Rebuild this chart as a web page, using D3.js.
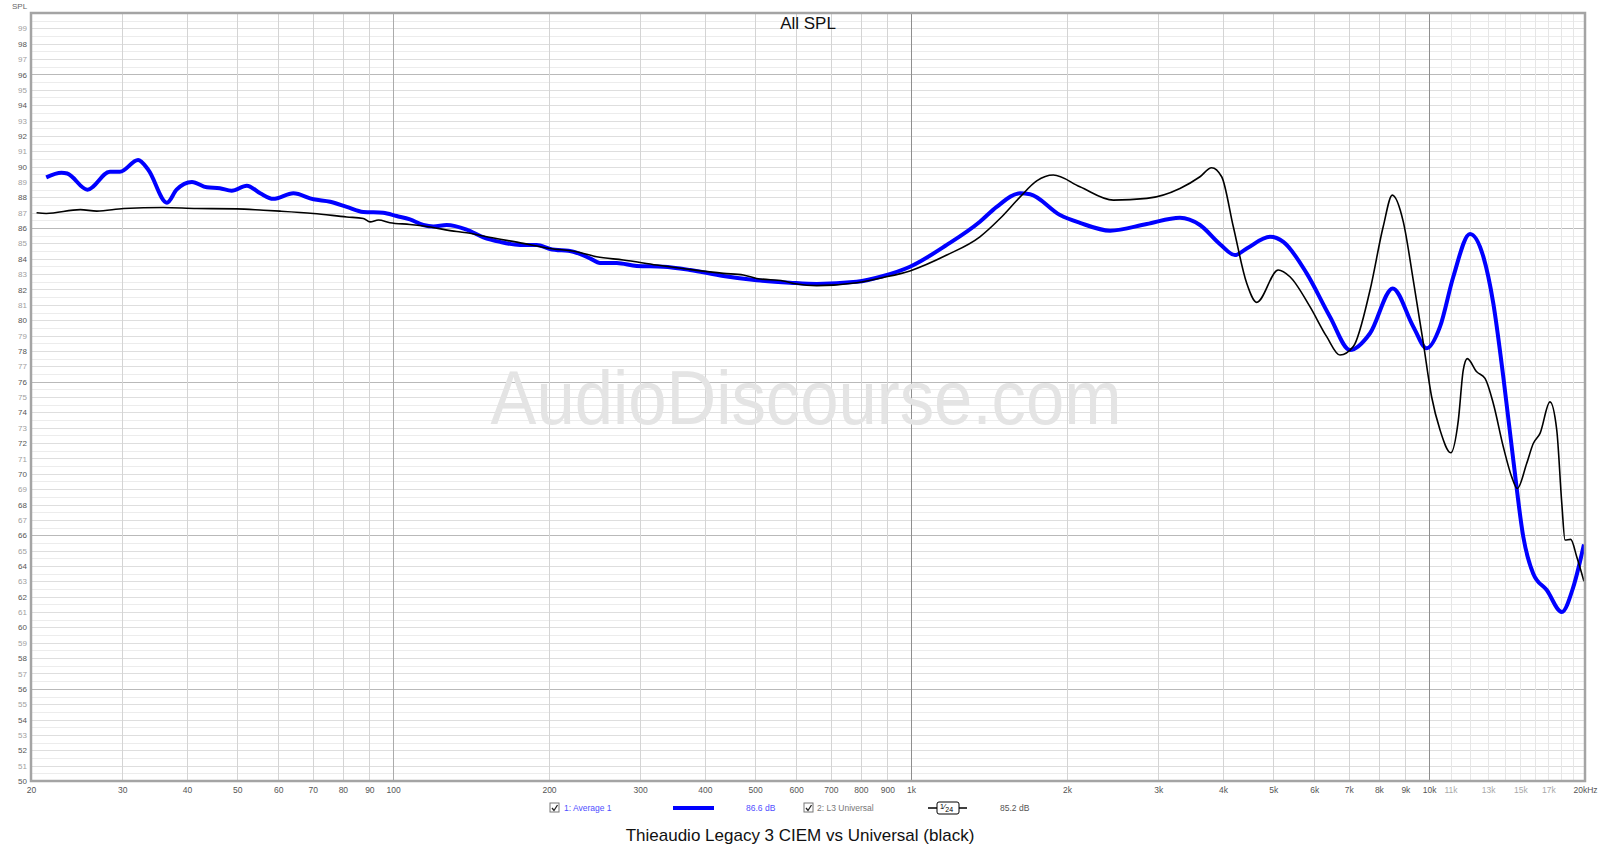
<!DOCTYPE html>
<html>
<head>
<meta charset="utf-8">
<script src="https://cdn.jsdelivr.net/npm/d3@7/dist/d3.min.js"></script>
<style>
  body { margin: 0; background: #fff; }
  svg { display: block; font-family: "Liberation Sans", Arial, sans-serif; }
</style>
</head>
<body>
<svg id="chart" width="1600" height="849"></svg>
<script>
  // ---------- data ----------

  // 1: Average 1 (CIEM, blue)
  const avgFreq = [21.4, 22.9, 23.5, 25.7, 28.4, 29.7, 32.2, 33.7, 36.6, 38.2,
    40.9, 43.7, 46.3, 48.8, 52.2, 55.4, 58.7, 64.2, 70.2, 75.6,
    81.4, 87.6, 95.7, 101.6, 107.8, 114.4, 119.6, 126.9, 138.7, 149.4,
    160.9, 175.8, 189.4, 200.9, 222.8, 240, 250.9, 270.2, 295.4, 332.4,
    374.4, 434.2, 503.4, 584, 657.4, 785, 884, 995, 1172, 1358,
    1463, 1624, 1697, 1939, 2118, 2422, 2851, 3304, 3612, 3949,
    4220, 4446, 4932, 5232, 5804, 6436, 7038, 7693, 8508, 9323,
    9894, 10500, 11138, 11995, 12728, 13305, 13909, 14541, 15201, 15891,
    16871, 18040, 18990, 19908];
  const avgSpl = [89.3, 89.6, 89.55, 88.5, 89.66, 89.66, 90.43, 89.78, 87.65, 88.5,
    89.0, 88.65, 88.59, 88.43, 88.76, 88.26, 87.9, 88.26, 87.87, 87.71,
    87.38, 87.05, 86.99, 86.78, 86.56, 86.2, 86.1, 86.2, 85.9, 85.4,
    85.1, 84.9, 84.9, 84.64, 84.46, 84.03, 83.73, 83.73, 83.53, 83.48,
    83.27, 82.88, 82.6, 82.44, 82.36, 82.5, 82.88, 83.48, 84.9, 86.41,
    87.38, 88.26, 88.2, 86.85, 86.34, 85.83, 86.26, 86.67, 86.2, 84.95,
    84.24, 84.67, 85.43, 85.1, 83.05, 80.23, 78.06, 79.15, 82.07, 79.58,
    78.17, 79.58, 82.83, 85.62, 84.14, 81.1, 76.32, 70.9, 65.9, 63.5,
    62.43, 61.0, 62.64, 65.4];

  // 2: L3 Universal (black)
  const uniFreq = [20.5, 21.4, 24.9, 26.8, 30.2, 36.0, 41.8, 49.9, 56.2, 60.5,
    70.2, 81.4, 87.6, 90.3, 93.7, 98.6, 107.8, 114.4, 132.7, 140.8,
    149.4, 178.4, 200.9, 226.2, 247.2, 278.2, 322.8, 374.4, 434.2, 474.5,
    503.4, 566.8, 601.6, 657.4, 785, 884, 995, 1172, 1358, 1485,
    1624, 1748, 1882, 2118, 2458, 2851, 3304, 3612, 3804, 3978,
    4188, 4446, 4648, 5116, 5388, 5889, 6344, 6730, 7140, 7693,
    8157, 8492, 8918, 9323, 9748, 10116, 10500, 11012, 11390, 11641,
    11852, 12358, 12824, 13305, 13909, 14439, 14802, 15432, 15891, 16376,
    17118, 17640, 18040, 18302, 18772, 19278, 19908];
  const uniSpl = [87.0, 86.95, 87.2, 87.1, 87.27, 87.34, 87.27, 87.25, 87.16, 87.1,
    86.95, 86.72, 86.62, 86.4, 86.52, 86.35, 86.23, 86.13, 85.77, 85.66,
    85.48, 85.0, 84.67, 84.46, 84.13, 83.92, 83.59, 83.3, 83.05, 82.94,
    82.72, 82.55, 82.36, 82.25, 82.44, 82.78, 83.21, 84.24, 85.43, 86.62,
    88.03, 89.07, 89.45, 88.69, 87.82, 87.93, 88.58, 89.34, 89.93, 89.34,
    86.1, 82.4, 81.16, 83.27, 82.83, 80.88, 78.93, 77.73, 78.28, 81.97,
    86.1, 88.14, 86.4, 82.6, 78.5, 75.0, 72.85, 71.37, 73.5, 76.75,
    77.5, 76.64, 76.21, 74.58, 71.76, 69.8, 69.04, 70.67, 71.97, 72.63,
    74.68, 72.85, 68.07, 65.69, 65.73, 64.6, 63.0];

  const xTicks = [20, 30, 40, 50, 60, 70, 80, 90, 100, 200, 300, 400, 500, 600, 700, 800, 900,
    1000, 2000, 3000, 4000, 5000, 6000, 7000, 8000, 9000, 10000, 11000, 13000, 15000, 17000, 20000];
  const xTickLabels = ["20", "30", "40", "50", "60", "70", "80", "90", "100", "200", "300", "400",
    "500", "600", "700", "800", "900", "1k", "2k", "3k", "4k", "5k", "6k", "7k", "8k", "9k", "10k",
    "11k", "13k", "15k", "17k", "20kHz"];
  const yTicks = d3.range(50, 100);

  const legendNames = ["1: Average 1", "2: L3 Universal"];
  const legendLevels = ["86.6 dB", "85.2 dB"];

  // ---------- layout ----------
  const plotLeft = 31, plotRight = 1585, plotTop = 13, plotBottom = 781;

  const svg = d3.select("#chart");
  const x = d3.scaleLog().domain([20, 20000]).range([plotLeft, plotRight]);
  const y = d3.scaleLinear().domain([50, 100]).range([plotBottom, plotTop]);

  // horizontal grid (every 0.5 dB)
  const hGrid = svg.append("g");
  d3.range(50.5, 100, 0.5).forEach(v => {
    let col = "#ececec";
    if (Number.isInteger(v)) col = (v % 10 === 6) ? "#b9b9b9" : "#dedede";
    hGrid.append("line")
      .attr("x1", plotLeft).attr("x2", plotRight)
      .attr("y1", Math.round(y(v)) + 0.5).attr("y2", Math.round(y(v)) + 0.5)
      .attr("stroke", col).attr("stroke-width", 1);
  });

  // vertical grid
  const vGrid = svg.append("g");
  const vLines = [];
  [10, 100, 1000, 10000].forEach(dec => {
    for (let m = 1; m <= 9; m++) {
      const f = dec * m;
      if (f > 20 && f < 20000 && !(dec === 10 && m < 3)) vLines.push(f);
    }
  });
  d3.range(11000, 20000, 1000).forEach(f => vLines.push(f));
  vLines.forEach(f => {
    let col = "#d4d4d4";
    if (f === 100) col = "#ababab";
    else if (f === 1000 || f === 10000) col = "#8e8e8e";
    else if (f > 10000) col = "#e6e6e6";
    vGrid.append("line")
      .attr("x1", Math.round(x(f)) + 0.5).attr("x2", Math.round(x(f)) + 0.5)
      .attr("y1", plotTop).attr("y2", plotBottom)
      .attr("stroke", col).attr("stroke-width", 1);
  });

  // watermark
  svg.append("text")
    .attr("x", 806).attr("y", 424)
    .attr("text-anchor", "middle")
    .attr("font-size", 76)
    .attr("textLength", 631)
    .attr("lengthAdjust", "spacingAndGlyphs")
    .attr("fill", "#e4e4e4")
    .text("AudioDiscourse.com");

  // curves
  svg.append("clipPath").attr("id", "plotClip")
    .append("rect").attr("x", plotLeft).attr("y", plotTop)
    .attr("width", plotRight - plotLeft).attr("height", plotBottom - plotTop);

  const line = d3.line()
    .x(d => x(d[0]))
    .y(d => y(d[1]))
    .curve(d3.curveMonotoneX);

  const curves = svg.append("g").attr("clip-path", "url(#plotClip)");
  curves.append("path")
    .datum(avgFreq.map((f, i) => [f, avgSpl[i]]))
    .attr("d", line)
    .attr("fill", "none")
    .attr("stroke", "#0000ff")
    .attr("stroke-width", 4)
    .attr("stroke-linejoin", "round");
  curves.append("path")
    .datum(uniFreq.map((f, i) => [f, uniSpl[i]]))
    .attr("d", line)
    .attr("fill", "none")
    .attr("stroke", "#000")
    .attr("stroke-width", 1.6)
    .attr("stroke-linejoin", "round");

  // frame
  svg.append("rect")
    .attr("x", plotLeft).attr("y", plotTop)
    .attr("width", plotRight - plotLeft).attr("height", plotBottom - plotTop)
    .attr("fill", "none")
    .attr("stroke", "#a4a4a4")
    .attr("stroke-width", 2.5);

  // axes
  const yAxis = svg.append("g")
    .attr("transform", `translate(${plotLeft - 1},0)`)
    .call(d3.axisLeft(y).tickValues(yTicks).tickSize(0).tickPadding(3).tickFormat(d3.format("d")));
  yAxis.select(".domain").remove();
  yAxis.selectAll("text")
    .attr("font-size", 8)
    .attr("font-family", "'Liberation Sans', Arial, sans-serif")
    .attr("fill", d => d % 2 === 0 ? "#555" : "#a0a0a0");

  const xAxis = svg.append("g")
    .attr("transform", `translate(0,${plotBottom})`)
    .call(d3.axisBottom(x).tickValues(xTicks).tickSize(0).tickPadding(6)
      .tickFormat((d, i) => xTickLabels[i]));
  xAxis.select(".domain").remove();
  xAxis.selectAll("text")
    .attr("font-size", 8.5)
    .attr("font-family", "'Liberation Sans', Arial, sans-serif")
    .attr("fill", d => [11000, 13000, 15000, 17000].includes(d) ? "#a8a8a8" : "#555");

  svg.append("text")
    .attr("x", 12).attr("y", 9)
    .attr("font-size", 8).attr("fill", "#666")
    .text("SPL");

  // titles
  svg.append("text")
    .attr("x", (plotLeft + plotRight) / 2).attr("y", 29)
    .attr("text-anchor", "middle")
    .attr("font-size", 17).attr("fill", "#111")
    .text("All SPL");

  svg.append("text")
    .attr("x", 800).attr("y", 841)
    .attr("text-anchor", "middle")
    .attr("font-size", 17).attr("fill", "#111")
    .text("Thieaudio Legacy 3 CIEM vs Universal (black)");

  // ---------- legend ----------
  const lg = svg.append("g").attr("font-size", 8.5);
  const legendY = 808;

  function checkbox(cx) {
    lg.append("rect")
      .attr("x", cx).attr("y", legendY - 5)
      .attr("width", 9).attr("height", 9)
      .attr("fill", "#fff").attr("stroke", "#777");
    lg.append("path")
      .attr("d", `M${cx + 2},${legendY} L${cx + 4},${legendY + 2.5} L${cx + 7.5},${legendY - 3}`)
      .attr("fill", "none").attr("stroke", "#222").attr("stroke-width", 1.3);
  }

  checkbox(550);
  lg.append("text").attr("x", 564).attr("y", legendY + 3)
    .attr("fill", "#4f4fff").text(legendNames[0]);
  lg.append("line")
    .attr("x1", 673).attr("x2", 714).attr("y1", legendY).attr("y2", legendY)
    .attr("stroke", "#0000ff").attr("stroke-width", 4);
  lg.append("text").attr("x", 746).attr("y", legendY + 3)
    .attr("fill", "#4f4fff").text(legendLevels[0]);

  checkbox(804);
  lg.append("text").attr("x", 817).attr("y", legendY + 3)
    .attr("fill", "#777").text(legendNames[1]);
  lg.append("line")
    .attr("x1", 928).attr("x2", 967).attr("y1", legendY).attr("y2", legendY)
    .attr("stroke", "#000").attr("stroke-width", 1.5);
  lg.append("rect")
    .attr("x", 937).attr("y", legendY - 6)
    .attr("width", 22).attr("height", 12).attr("rx", 2)
    .attr("fill", "#fff").attr("stroke", "#000");
  const frac = lg.append("text").attr("x", 940).attr("y", legendY + 3).attr("fill", "#000");
  frac.append("tspan").attr("font-size", 7).attr("dy", -2).text("1");
  frac.append("tspan").attr("font-size", 8).attr("dy", 0).text("⁄");
  frac.append("tspan").attr("font-size", 7).attr("dy", 3).text("24");
  lg.append("text").attr("x", 1000).attr("y", legendY + 3)
    .attr("fill", "#555").text(legendLevels[1]);
</script>
</body>
</html>
